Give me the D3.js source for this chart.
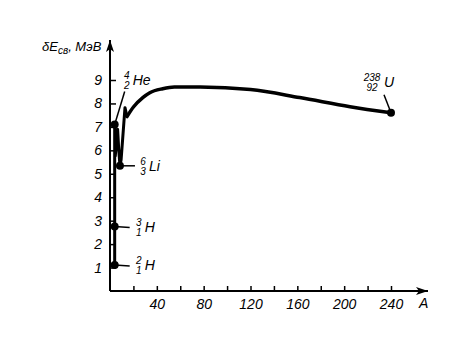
<!DOCTYPE html>
<html><head><meta charset="utf-8">
<script src="https://cdn.jsdelivr.net/npm/d3@7"></script>
<style>
body{margin:0;background:#fff;}
text{font-family:"Liberation Sans",Arial,sans-serif;font-style:italic;fill:#000;}
</style></head>
<body><svg id="c" width="474" height="355"></svg>
<script>
// Light nuclei: jagged part (mass number A, binding energy per nucleon, MeV)
const jaggedA = [4, 4, 4, 4.5, 6.5, 7.5, 8.5, 9.5, 12.8, 14.5];
const jaggedE = [1.11, 2.75, 7.1, 5.75, 6.9, 6.0, 5.34, 5.6, 7.82, 7.44];
// Smooth part of the curve
const smoothA = [14.5, 20, 28, 34, 45, 55, 77, 120, 162, 205, 240];
const smoothE = [7.44, 7.85, 8.25, 8.46, 8.63, 8.7, 8.7, 8.59, 8.25, 7.86, 7.6];
// Labelled nuclei
const nucA = [4, 8.5, 4, 4, 240];
const nucE = [7.1, 5.34, 2.75, 1.11, 7.6];
const nucMass = ["4", "6", "3", "2", "238"];
const nucZ = ["2", "3", "1", "1", "92"];
const nucSym = ["He", "Li", "H", "H", "U"];
const xTicks = [20,40,60,80,100,120,140,160,180,200,220,240];
const xLabels = [40,80,120,160,200,240];
const yTicks = [1,2,3,4,5,6,7,8,9];

const svg = d3.select("#c");
const x = d3.scaleLinear().domain([0,240]).range([110,391]);
const y = d3.scaleLinear().domain([0,9]).range([291,80]);

svg.append("defs").append("marker").attr("id","arr").attr("viewBox","0 0 12 8")
  .attr("refX",12).attr("refY",4).attr("markerWidth",12).attr("markerHeight",8)
  .attr("markerUnits","userSpaceOnUse").attr("orient","auto")
  .append("path").attr("d","M0,0L12,4L0,8L3,4Z").attr("fill","#000");

// axes lines with arrows
svg.append("line").attr("x1",x(0)).attr("y1",y(0)).attr("x2",428).attr("y2",y(0))
  .attr("stroke","#000").attr("stroke-width",2).attr("marker-end","url(#arr)");
svg.append("line").attr("x1",x(0)).attr("y1",y(0)).attr("x2",x(0)).attr("y2",40)
  .attr("stroke","#000").attr("stroke-width",2).attr("marker-end","url(#arr)");

const xAxis = d3.axisBottom(x).tickValues(xTicks).tickSizeInner(-5).tickSizeOuter(0).tickPadding(8)
  .tickFormat(d => xLabels.includes(d) ? d : "");
const gx = svg.append("g").attr("transform",`translate(0,${y(0)})`).call(xAxis);
gx.select(".domain").remove();
gx.selectAll("line").attr("stroke","#000").attr("stroke-width",1.5);
gx.selectAll("text").attr("font-size",14).style("font-family","Liberation Sans").style("font-style","italic");

const yAxis = d3.axisLeft(y).tickValues(yTicks).tickSizeInner(-6).tickSizeOuter(0).tickPadding(8);
const gy = svg.append("g").attr("transform",`translate(${x(0)},0)`).call(yAxis);
gy.select(".domain").remove();
gy.selectAll("line").attr("stroke","#000").attr("stroke-width",1.5);
gy.selectAll("text").attr("font-size",14).style("font-family","Liberation Sans").style("font-style","italic");

// axis titles
const yt = svg.append("text").attr("x",42).attr("y",51).attr("font-size",13);
yt.append("tspan").text("δE");
yt.append("tspan").attr("font-size",10).attr("dy",3).text("св");
yt.append("tspan").attr("dy",-3).text(", МэВ");
svg.append("text").attr("x",419).attr("y",308).attr("font-size",14).text("A");

// curve
svg.append("path").datum(jaggedA.map((a,i)=>[a,jaggedE[i]]))
  .attr("d", d3.line().x(d=>x(d[0])).y(d=>y(d[1])))
  .attr("fill","none").attr("stroke","#000").attr("stroke-width",3).attr("stroke-linejoin","round");
svg.append("path").datum(smoothA.map((a,i)=>[a,smoothE[i]]))
  .attr("d", d3.line().x(d=>x(d[0])).y(d=>y(d[1])).curve(d3.curveMonotoneX))
  .attr("fill","none").attr("stroke","#000").attr("stroke-width",3.5).attr("stroke-linecap","round");

// points
svg.selectAll("circle.n").data(nucA).join("circle").attr("class","n")
  .attr("cx",(d)=>x(d)).attr("cy",(d,i)=>y(nucE[i])).attr("r",4).attr("fill","#000");

// leaders and labels
const lead = [[10,-33],[15,0],[15,1],[15,1],[-7,-18]];
const lab = [[12,-45],[23,0],[24,0],[24,0],[-19,-31]];
nucA.forEach((a,i)=>{
  const px=x(a), py=y(nucE[i]);
  svg.append("line").attr("x1",px).attr("y1",py).attr("x2",px+lead[i][0]).attr("y2",py+lead[i][1])
    .attr("stroke","#000").attr("stroke-width",1.5);
  const lx=px+lab[i][0], ly=py+lab[i][1];
  const g=svg.append("g");
  g.append("text").attr("x",lx).attr("y",ly-1).attr("font-size",10).attr("text-anchor","middle").text(nucMass[i]);
  g.append("text").attr("x",lx).attr("y",ly+9).attr("font-size",10).attr("text-anchor","middle").text(nucZ[i]);
  const w = nucMass[i].length*3+3;
  g.append("text").attr("x",lx+w).attr("y",ly+5).attr("font-size",14).text(nucSym[i]);
});
</script></body></html>
